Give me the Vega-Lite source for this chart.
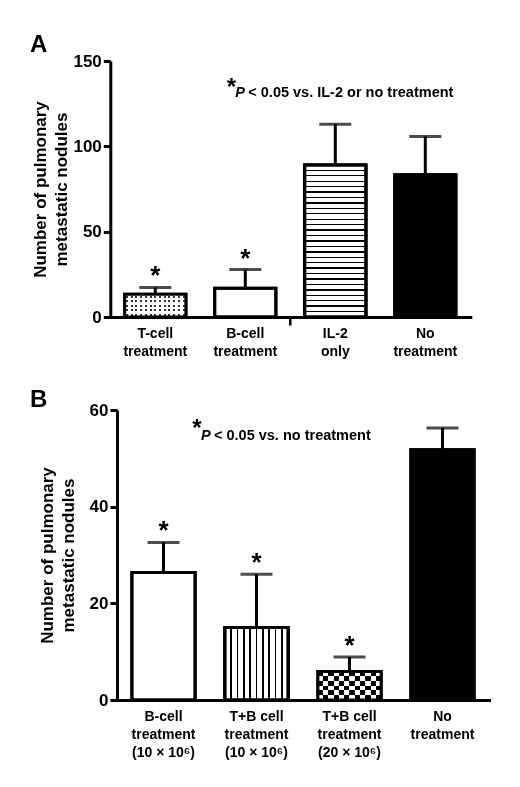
{
  "$schema": "https://vega.github.io/schema/vega-lite/v6.json",
  "background": "white",
  "padding": {"left": 29, "top": 33, "right": 5, "bottom": 5},
  "spacing": 30,
  "config": {
    "view": {"stroke": null},
    "font": "Liberation Sans",
    "axis": {
      "grid": false,
      "domainColor": "black",
      "domainWidth": 3,
      "tickColor": "black",
      "tickWidth": 3,
      "labelColor": "black",
      "titleColor": "black",
      "labelFont": "Liberation Sans",
      "labelFontWeight": "bold",
      "titleFont": "Liberation Sans",
      "titleFontWeight": "bold"
    },
    "axisX": {"ticks": false, "labelAngle": 0, "labelFontSize": 14, "labelLineHeight": 18, "labelPadding": 9, "domainCap": "square"},
    "axisY": {"tickSize": 7, "labelFontSize": 17, "labelPadding": 2, "titleFontSize": 17, "titleLineHeight": 21},
    "title": {"font": "Liberation Sans", "fontSize": 24, "fontWeight": "bold", "color": "black", "anchor": "start", "frame": "bounds"}
  },
  "datasets": {
    "a": [
      {"group": "T-cell treatment", "mean": 13.3, "upper": 17.3, "sig": "*"},
      {"group": "B-cell treatment", "mean": 16.9, "upper": 27.8, "sig": "*"},
      {"group": "IL-2 only", "mean": 89.1, "upper": 113, "sig": ""},
      {"group": "No treatment", "mean": 83.3, "upper": 105.8, "sig": ""}
    ],
    "b": [
      {"group": "B-cell treatment (10 × 10⁶)", "mean": 26.4, "upper": 32.6, "sig": "*"},
      {"group": "T+B cell treatment (10 × 10⁶)", "mean": 15.0, "upper": 26.0, "sig": "*"},
      {"group": "T+B cell treatment (20 × 10⁶)", "mean": 5.9, "upper": 8.9, "sig": "*"},
      {"group": "No treatment", "mean": 51.8, "upper": 56.3, "sig": ""}
    ]
  },
  "vconcat": [
    {
      "data": {"name": "a"},
      "width": 360,
      "height": 256,
      "title": {"text": "A", "offset": -5, "dx": -2},
      "encoding": {
        "x": {
          "field": "group",
          "type": "nominal",
          "scale": {"domain": ["T-cell treatment", "B-cell treatment", "IL-2 only", "No treatment"], "range": [-6.7, 353.3], "paddingInner": 0.32, "paddingOuter": 0.16},
          "axis": {"title": null, "labelExpr": "split(datum.label, regexp(' (?=treatment|only|[(])'))"}
        },
        "y": {
          "field": "mean",
          "type": "quantitative",
          "scale": {"domain": [0, 150], "nice": false},
          "axis": {"title": ["Number of pulmonary", "metastatic nodules"], "values": [0, 50, 100, 150], "offset": 6.7, "titlePadding": 2}
        }
      },
      "layer": [
        {
          "mark": {"type": "bar", "stroke": "black", "strokeWidth": 3},
          "encoding": {"fill": {"condition": {"test": "datum.group === 'No treatment'", "value": "black"}, "value": "white"}}
        },
        {
          "transform": [{"filter": "datum.group === 'IL-2 only'"}],
          "mark": {"type": "bar", "stroke": "black", "strokeWidth": 3, "fill": {"gradient": "linear", "x1": 0, "y1": 0, "x2": 0, "y2": 1, "stops": [
            {"offset": 0, "color": "white"},
            {"offset": 0.0312, "color": "white"}, {"offset": 0.0312, "color": "black"}, {"offset": 0.0402, "color": "black"}, {"offset": 0.0402, "color": "white"},
            {"offset": 0.0669, "color": "white"}, {"offset": 0.0669, "color": "black"}, {"offset": 0.0759, "color": "black"}, {"offset": 0.0759, "color": "white"},
            {"offset": 0.1026, "color": "white"}, {"offset": 0.1026, "color": "black"}, {"offset": 0.1116, "color": "black"}, {"offset": 0.1116, "color": "white"},
            {"offset": 0.1384, "color": "white"}, {"offset": 0.1384, "color": "black"}, {"offset": 0.1474, "color": "black"}, {"offset": 0.1474, "color": "white"},
            {"offset": 0.1741, "color": "white"}, {"offset": 0.1741, "color": "black"}, {"offset": 0.1831, "color": "black"}, {"offset": 0.1831, "color": "white"},
            {"offset": 0.2098, "color": "white"}, {"offset": 0.2098, "color": "black"}, {"offset": 0.2188, "color": "black"}, {"offset": 0.2188, "color": "white"},
            {"offset": 0.2455, "color": "white"}, {"offset": 0.2455, "color": "black"}, {"offset": 0.2545, "color": "black"}, {"offset": 0.2545, "color": "white"},
            {"offset": 0.2812, "color": "white"}, {"offset": 0.2812, "color": "black"}, {"offset": 0.2902, "color": "black"}, {"offset": 0.2902, "color": "white"},
            {"offset": 0.3169, "color": "white"}, {"offset": 0.3169, "color": "black"}, {"offset": 0.3259, "color": "black"}, {"offset": 0.3259, "color": "white"},
            {"offset": 0.3526, "color": "white"}, {"offset": 0.3526, "color": "black"}, {"offset": 0.3616, "color": "black"}, {"offset": 0.3616, "color": "white"},
            {"offset": 0.3884, "color": "white"}, {"offset": 0.3884, "color": "black"}, {"offset": 0.3974, "color": "black"}, {"offset": 0.3974, "color": "white"},
            {"offset": 0.4241, "color": "white"}, {"offset": 0.4241, "color": "black"}, {"offset": 0.4331, "color": "black"}, {"offset": 0.4331, "color": "white"},
            {"offset": 0.4598, "color": "white"}, {"offset": 0.4598, "color": "black"}, {"offset": 0.4688, "color": "black"}, {"offset": 0.4688, "color": "white"},
            {"offset": 0.4955, "color": "white"}, {"offset": 0.4955, "color": "black"}, {"offset": 0.5045, "color": "black"}, {"offset": 0.5045, "color": "white"},
            {"offset": 0.5312, "color": "white"}, {"offset": 0.5312, "color": "black"}, {"offset": 0.5402, "color": "black"}, {"offset": 0.5402, "color": "white"},
            {"offset": 0.5669, "color": "white"}, {"offset": 0.5669, "color": "black"}, {"offset": 0.5759, "color": "black"}, {"offset": 0.5759, "color": "white"},
            {"offset": 0.6026, "color": "white"}, {"offset": 0.6026, "color": "black"}, {"offset": 0.6116, "color": "black"}, {"offset": 0.6116, "color": "white"},
            {"offset": 0.6384, "color": "white"}, {"offset": 0.6384, "color": "black"}, {"offset": 0.6474, "color": "black"}, {"offset": 0.6474, "color": "white"},
            {"offset": 0.6741, "color": "white"}, {"offset": 0.6741, "color": "black"}, {"offset": 0.6831, "color": "black"}, {"offset": 0.6831, "color": "white"},
            {"offset": 0.7098, "color": "white"}, {"offset": 0.7098, "color": "black"}, {"offset": 0.7188, "color": "black"}, {"offset": 0.7188, "color": "white"},
            {"offset": 0.7455, "color": "white"}, {"offset": 0.7455, "color": "black"}, {"offset": 0.7545, "color": "black"}, {"offset": 0.7545, "color": "white"},
            {"offset": 0.7812, "color": "white"}, {"offset": 0.7812, "color": "black"}, {"offset": 0.7902, "color": "black"}, {"offset": 0.7902, "color": "white"},
            {"offset": 0.8169, "color": "white"}, {"offset": 0.8169, "color": "black"}, {"offset": 0.8259, "color": "black"}, {"offset": 0.8259, "color": "white"},
            {"offset": 0.8526, "color": "white"}, {"offset": 0.8526, "color": "black"}, {"offset": 0.8616, "color": "black"}, {"offset": 0.8616, "color": "white"},
            {"offset": 0.8884, "color": "white"}, {"offset": 0.8884, "color": "black"}, {"offset": 0.8974, "color": "black"}, {"offset": 0.8974, "color": "white"},
            {"offset": 0.9241, "color": "white"}, {"offset": 0.9241, "color": "black"}, {"offset": 0.9331, "color": "black"}, {"offset": 0.9331, "color": "white"},
            {"offset": 0.9598, "color": "white"}, {"offset": 0.9598, "color": "black"}, {"offset": 0.9688, "color": "black"}, {"offset": 0.9688, "color": "white"},
            {"offset": 1, "color": "white"}
          ]}}
        },
        {
          "transform": [{"filter": "datum.group === 'T-cell treatment'"}],
          "mark": {"type": "bar", "strokeWidth": 0, "fill": {"gradient": "linear", "x1": 0, "y1": 0, "x2": 1, "y2": 0, "stops": [
            {"offset": 0, "color": "white"},
            {"offset": 0.0225, "color": "white"}, {"offset": 0.0225, "color": "#333"}, {"offset": 0.0545, "color": "#333"}, {"offset": 0.0545, "color": "white"},
            {"offset": 0.0994, "color": "white"}, {"offset": 0.0994, "color": "#333"}, {"offset": 0.1314, "color": "#333"}, {"offset": 0.1314, "color": "white"},
            {"offset": 0.1763, "color": "white"}, {"offset": 0.1763, "color": "#333"}, {"offset": 0.2083, "color": "#333"}, {"offset": 0.2083, "color": "white"},
            {"offset": 0.2532, "color": "white"}, {"offset": 0.2532, "color": "#333"}, {"offset": 0.2852, "color": "#333"}, {"offset": 0.2852, "color": "white"},
            {"offset": 0.3302, "color": "white"}, {"offset": 0.3302, "color": "#333"}, {"offset": 0.3622, "color": "#333"}, {"offset": 0.3622, "color": "white"},
            {"offset": 0.4071, "color": "white"}, {"offset": 0.4071, "color": "#333"}, {"offset": 0.4391, "color": "#333"}, {"offset": 0.4391, "color": "white"},
            {"offset": 0.484, "color": "white"}, {"offset": 0.484, "color": "#333"}, {"offset": 0.516, "color": "#333"}, {"offset": 0.516, "color": "white"},
            {"offset": 0.5609, "color": "white"}, {"offset": 0.5609, "color": "#333"}, {"offset": 0.5929, "color": "#333"}, {"offset": 0.5929, "color": "white"},
            {"offset": 0.6378, "color": "white"}, {"offset": 0.6378, "color": "#333"}, {"offset": 0.6698, "color": "#333"}, {"offset": 0.6698, "color": "white"},
            {"offset": 0.7148, "color": "white"}, {"offset": 0.7148, "color": "#333"}, {"offset": 0.7468, "color": "#333"}, {"offset": 0.7468, "color": "white"},
            {"offset": 0.7917, "color": "white"}, {"offset": 0.7917, "color": "#333"}, {"offset": 0.8237, "color": "#333"}, {"offset": 0.8237, "color": "white"},
            {"offset": 0.8686, "color": "white"}, {"offset": 0.8686, "color": "#333"}, {"offset": 0.9006, "color": "#333"}, {"offset": 0.9006, "color": "white"},
            {"offset": 0.9455, "color": "white"}, {"offset": 0.9455, "color": "#333"}, {"offset": 0.9775, "color": "#333"}, {"offset": 0.9775, "color": "white"},
            {"offset": 1, "color": "white"}
          ]}}
        },
        {
          "transform": [{"filter": "datum.group === 'T-cell treatment'"}],
          "mark": {"type": "bar", "strokeWidth": 0, "blend": "lighten", "fill": {"gradient": "linear", "x1": 0, "y1": 0, "x2": 0, "y2": 1, "stops": [
            {"offset": 0, "color": "white"},
            {"offset": 0.055, "color": "white"}, {"offset": 0.055, "color": "black"}, {"offset": 0.145, "color": "black"}, {"offset": 0.145, "color": "white"},
            {"offset": 0.255, "color": "white"}, {"offset": 0.255, "color": "black"}, {"offset": 0.345, "color": "black"}, {"offset": 0.345, "color": "white"},
            {"offset": 0.455, "color": "white"}, {"offset": 0.455, "color": "black"}, {"offset": 0.545, "color": "black"}, {"offset": 0.545, "color": "white"},
            {"offset": 0.655, "color": "white"}, {"offset": 0.655, "color": "black"}, {"offset": 0.745, "color": "black"}, {"offset": 0.745, "color": "white"},
            {"offset": 0.855, "color": "white"}, {"offset": 0.855, "color": "black"}, {"offset": 0.945, "color": "black"}, {"offset": 0.945, "color": "white"},
            {"offset": 1, "color": "white"}
          ]}}
        },
        {"mark": {"type": "bar", "fillOpacity": 0, "stroke": "black", "strokeWidth": 3}},
        {
          "mark": {"type": "rule", "color": "black", "strokeWidth": 3},
          "encoding": {"y": {"field": "upper", "type": "quantitative"}, "y2": {"field": "mean"}}
        },
        {
          "mark": {"type": "tick", "color": "black", "thickness": 3, "size": 32},
          "encoding": {"y": {"field": "upper", "type": "quantitative"}}
        },
        {
          "mark": {"type": "text", "color": "black", "fontSize": 26, "fontWeight": "bold", "baseline": "alphabetic", "dy": -3},
          "encoding": {"y": {"field": "upper", "type": "quantitative"}, "text": {"field": "sig"}}
        },
        {
          "transform": [{"filter": "datum.group === 'B-cell treatment'"}],
          "mark": {"type": "rule", "color": "black", "strokeWidth": 2.5},
          "encoding": {"x": {"field": "group", "type": "nominal", "bandPosition": 1.235}, "y": {"datum": 0}, "y2": {"datum": -5}}
        },
        {
          "transform": [{"filter": "datum.group === 'B-cell treatment'"}],
          "encoding": {"y": {"datum": 129.1}},
          "layer": [
            {"mark": {"type": "text", "color": "black", "fontSize": 24, "fontWeight": "bold", "align": "center", "baseline": "alphabetic", "dx": -14, "dy": -2}, "encoding": {"text": {"value": "*"}}},
            {"mark": {"type": "text", "color": "black", "fontSize": 14.5, "fontWeight": "bold", "fontStyle": "italic", "align": "left", "baseline": "alphabetic", "dx": -10}, "encoding": {"text": {"value": "P"}}},
            {"mark": {"type": "text", "color": "black", "fontSize": 14.5, "fontWeight": "bold", "align": "left", "baseline": "alphabetic", "dx": 3}, "encoding": {"text": {"value": "< 0.05 vs. IL-2 or no treatment"}}}
          ]
        }
      ]
    },
    {
      "data": {"name": "b"},
      "width": 372,
      "height": 290,
      "title": {"text": "B", "offset": -11, "dx": -8},
      "encoding": {
        "x": {
          "field": "group",
          "type": "nominal",
          "scale": {"domain": ["B-cell treatment (10 × 10⁶)", "T+B cell treatment (10 × 10⁶)", "T+B cell treatment (20 × 10⁶)", "No treatment"], "paddingInner": 0.32, "paddingOuter": 0.16},
          "axis": {"title": null, "labelExpr": "split(datum.label, regexp(' (?=treatment|only|[(])'))"}
        },
        "y": {
          "field": "mean",
          "type": "quantitative",
          "scale": {"domain": [0, 60], "nice": false},
          "axis": {"title": ["Number of pulmonary", "metastatic nodules"], "values": [0, 20, 40, 60], "titlePadding": 12}
        }
      },
      "layer": [
        {
          "mark": {"type": "bar", "stroke": "black", "strokeWidth": 3},
          "encoding": {"fill": {"condition": {"test": "datum.group === 'No treatment'", "value": "black"}, "value": "white"}}
        },
        {
          "transform": [{"filter": "datum.group === 'T+B cell treatment (10 × 10⁶)'"}],
          "mark": {"type": "bar", "stroke": "black", "strokeWidth": 3, "fill": {"gradient": "linear", "x1": 0, "y1": 0, "x2": 1, "y2": 0, "stops": [
            {"offset": 0, "color": "white"},
            {"offset": 0.088, "color": "white"}, {"offset": 0.088, "color": "black"}, {"offset": 0.112, "color": "black"}, {"offset": 0.112, "color": "white"},
            {"offset": 0.188, "color": "white"}, {"offset": 0.188, "color": "black"}, {"offset": 0.212, "color": "black"}, {"offset": 0.212, "color": "white"},
            {"offset": 0.288, "color": "white"}, {"offset": 0.288, "color": "black"}, {"offset": 0.312, "color": "black"}, {"offset": 0.312, "color": "white"},
            {"offset": 0.388, "color": "white"}, {"offset": 0.388, "color": "black"}, {"offset": 0.412, "color": "black"}, {"offset": 0.412, "color": "white"},
            {"offset": 0.488, "color": "white"}, {"offset": 0.488, "color": "black"}, {"offset": 0.512, "color": "black"}, {"offset": 0.512, "color": "white"},
            {"offset": 0.588, "color": "white"}, {"offset": 0.588, "color": "black"}, {"offset": 0.612, "color": "black"}, {"offset": 0.612, "color": "white"},
            {"offset": 0.688, "color": "white"}, {"offset": 0.688, "color": "black"}, {"offset": 0.712, "color": "black"}, {"offset": 0.712, "color": "white"},
            {"offset": 0.788, "color": "white"}, {"offset": 0.788, "color": "black"}, {"offset": 0.812, "color": "black"}, {"offset": 0.812, "color": "white"},
            {"offset": 0.888, "color": "white"}, {"offset": 0.888, "color": "black"}, {"offset": 0.912, "color": "black"}, {"offset": 0.912, "color": "white"},
            {"offset": 1, "color": "white"}
          ]}}
        },
        {
          "transform": [{"filter": "datum.group === 'T+B cell treatment (20 × 10⁶)'"}],
          "mark": {"type": "bar", "strokeWidth": 0, "fill": {"gradient": "linear", "x1": 0, "y1": 0, "x2": 1, "y2": 0, "stops": [
            {"offset": 0, "color": "black"}, {"offset": 0.0833, "color": "black"}, {"offset": 0.0833, "color": "white"}, {"offset": 0.1667, "color": "white"},
            {"offset": 0.1667, "color": "black"}, {"offset": 0.25, "color": "black"}, {"offset": 0.25, "color": "white"}, {"offset": 0.3333, "color": "white"},
            {"offset": 0.3333, "color": "black"}, {"offset": 0.4167, "color": "black"}, {"offset": 0.4167, "color": "white"}, {"offset": 0.5, "color": "white"},
            {"offset": 0.5, "color": "black"}, {"offset": 0.5833, "color": "black"}, {"offset": 0.5833, "color": "white"}, {"offset": 0.6667, "color": "white"},
            {"offset": 0.6667, "color": "black"}, {"offset": 0.75, "color": "black"}, {"offset": 0.75, "color": "white"}, {"offset": 0.8333, "color": "white"},
            {"offset": 0.8333, "color": "black"}, {"offset": 0.9167, "color": "black"}, {"offset": 0.9167, "color": "white"}, {"offset": 1, "color": "white"}
          ]}}
        },
        {
          "transform": [{"filter": "datum.group === 'T+B cell treatment (20 × 10⁶)'"}],
          "mark": {"type": "bar", "strokeWidth": 0, "blend": "difference", "fill": {"gradient": "linear", "x1": 0, "y1": 0, "x2": 0, "y2": 1, "stops": [
            {"offset": 0, "color": "black"}, {"offset": 0.1667, "color": "black"}, {"offset": 0.1667, "color": "white"}, {"offset": 0.3333, "color": "white"},
            {"offset": 0.3333, "color": "black"}, {"offset": 0.5, "color": "black"}, {"offset": 0.5, "color": "white"}, {"offset": 0.6667, "color": "white"},
            {"offset": 0.6667, "color": "black"}, {"offset": 0.8333, "color": "black"}, {"offset": 0.8333, "color": "white"}, {"offset": 1, "color": "white"}
          ]}}
        },
        {"mark": {"type": "bar", "fillOpacity": 0, "stroke": "black", "strokeWidth": 3}},
        {
          "mark": {"type": "rule", "color": "black", "strokeWidth": 3},
          "encoding": {"y": {"field": "upper", "type": "quantitative"}, "y2": {"field": "mean"}}
        },
        {
          "mark": {"type": "tick", "color": "black", "thickness": 3, "size": 32},
          "encoding": {"y": {"field": "upper", "type": "quantitative"}}
        },
        {
          "mark": {"type": "text", "color": "black", "fontSize": 26, "fontWeight": "bold", "baseline": "alphabetic", "dy": -3},
          "encoding": {"y": {"field": "upper", "type": "quantitative"}, "text": {"field": "sig"}}
        },
        {
          "transform": [{"filter": "datum.group === 'B-cell treatment (10 × 10⁶)'"}],
          "encoding": {"y": {"datum": 53.8}},
          "layer": [
            {"mark": {"type": "text", "color": "black", "fontSize": 24, "fontWeight": "bold", "align": "center", "baseline": "alphabetic", "dx": 33.5, "dy": -3.5}, "encoding": {"text": {"value": "*"}}},
            {"mark": {"type": "text", "color": "black", "fontSize": 14.5, "fontWeight": "bold", "fontStyle": "italic", "align": "left", "baseline": "alphabetic", "dx": 37.5}, "encoding": {"text": {"value": "P"}}},
            {"mark": {"type": "text", "color": "black", "fontSize": 14.5, "fontWeight": "bold", "align": "left", "baseline": "alphabetic", "dx": 50.5}, "encoding": {"text": {"value": "< 0.05 vs. no treatment"}}}
          ]
        }
      ]
    }
  ]
}
